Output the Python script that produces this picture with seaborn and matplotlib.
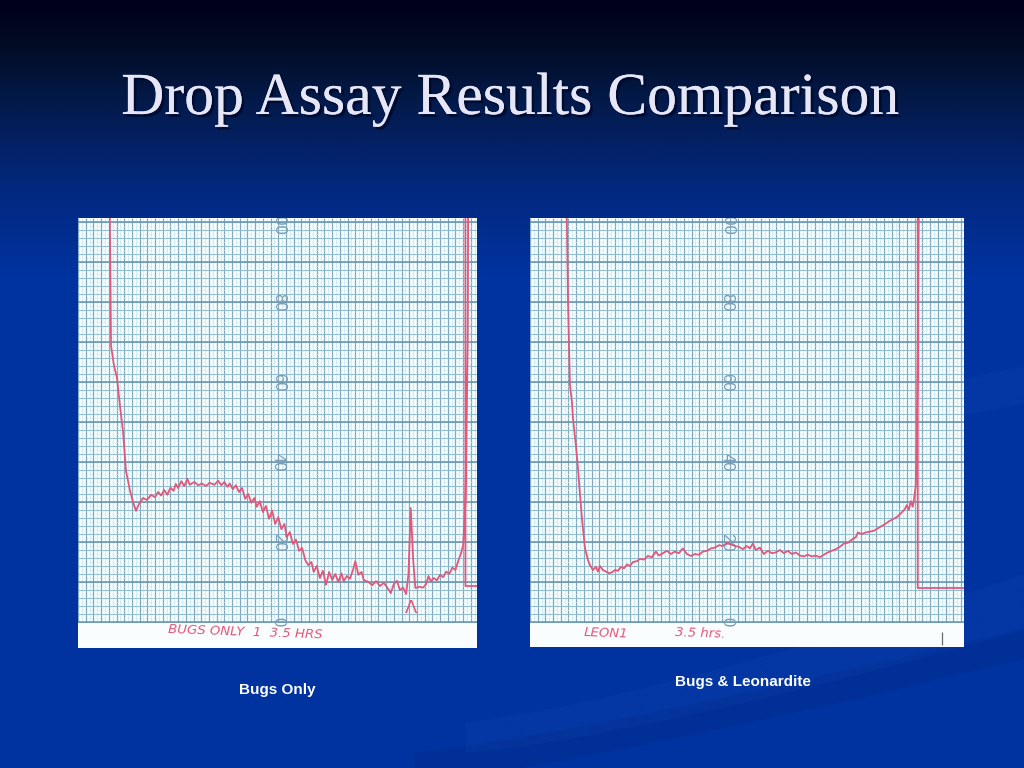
import numpy as np
import pandas as pd
import matplotlib
matplotlib.use("Agg")
import matplotlib.pyplot as plt
import matplotlib.patheffects as pe
import seaborn as sns
from matplotlib.colors import LinearSegmentedColormap

# chart-recorder traces: time in chart divisions, pen reading on the 0-100 scale
bugs_time = [4.12, 4.29, 4.68, 5.06, 5.45, 5.84, 6.23, 6.75, 7.14, 7.53, 7.92, 8.44, 8.96, 9.48,
             10.0, 10.4, 10.8, 11.2, 11.6, 12.0, 12.4, 12.7, 13.0, 13.4, 13.8, 14.2, 14.5, 15.1,
             15.6, 16.1, 16.6, 17.1, 17.7, 18.2, 18.6, 19.0, 19.4, 19.7, 20.1, 20.5, 20.9, 21.3,
             21.7, 22.1, 22.5, 22.9, 23.2, 23.6, 24.0, 24.4, 24.8, 25.2, 25.6, 26.0, 26.4, 26.8,
             27.1, 27.5, 27.9, 28.3, 28.7, 29.1, 29.5, 29.9, 30.3, 30.6, 31.0, 31.4, 31.8, 32.2,
             32.6, 33.0, 33.4, 33.8, 34.2, 34.5, 34.9, 35.3, 35.7, 36.0, 36.4, 36.8, 37.1, 37.7,
             38.2, 38.7, 39.2, 39.7, 40.3, 40.6, 41.0, 41.4, 41.8, 42.2, 42.6, 42.9, 43.2, 43.5,
             43.8, 44.3, 44.8, 45.2, 45.5, 45.8, 46.2, 46.6, 47.0, 47.4, 47.8, 48.2, 48.6, 49.0,
             49.4, 49.7, 50.0, 50.3, 50.4, 50.6, 50.65, 50.3, 50.3, 51.9]
bugs_signal = [103, 69, 64, 61, 54, 47.7, 37.8, 32.8, 30, 27.8, 29.5, 31, 30.5, 31.8,
               31.2, 32.5, 31.6, 33.0, 31.8, 33.6, 32.8, 34.5, 33.5, 35.2, 34.0, 35.8, 34.3, 35.0,
               34.2, 34.6, 34.0, 34.8, 34.3, 35.3, 34.2, 35.0, 33.8, 34.6, 33.2, 34.2, 32.5, 33.5,
               30.8, 32.0, 29.8, 31.0, 28.8, 30.2, 27.5, 29.0, 25.8, 27.8, 24.5, 26.2, 23.2, 24.5,
               21.2, 22.5, 19.5, 20.6, 17.8, 18.5, 15.5, 14.2, 15.0, 12.5, 14.0, 11.0, 12.8, 9.3,
               12.5, 10.5, 12.0, 10.0, 12.2, 10.2, 11.5, 10.8, 13.0, 15.2, 11.8, 12.5, 10.5, 10.0,
               9.2, 10.2, 9.0, 9.8, 8.2, 7.2, 9.5, 10.3, 8.0, 8.6, 7.0, 12.0, 28.5, 16.0,
               8.5, 8.8, 8.6, 9.5, 11.5, 10.2, 11.0, 10.4, 11.8, 11.2, 12.6, 12.0, 13.6, 13.0,
               15.5, 17.0, 19.2, 30.0, 42.7, 70, 103, 103, 9.0, 9.0]

leon_time = [4.77, 4.94, 5.19, 5.45, 5.58, 5.97, 6.23, 6.49, 6.75, 7.14, 7.53, 7.79, 8.18, 8.57,
             8.83, 9.09, 9.48, 9.87, 10.26, 10.65, 11.04, 11.43, 11.82, 12.21, 12.60, 12.99, 13.38,
             13.90, 14.29, 14.81, 15.32, 15.84, 16.36, 16.75, 17.27, 17.79, 18.31, 18.83, 19.35,
             19.87, 20.39, 20.91, 21.43, 21.95, 22.47, 22.99, 23.51, 24.03, 24.55, 25.06, 25.58,
             26.10, 26.62, 27.14, 27.66, 28.18, 28.57, 28.96, 29.35, 29.87, 30.39, 30.91, 31.43,
             31.95, 32.47, 32.99, 33.51, 34.03, 34.55, 35.06, 35.58, 36.10, 36.62, 37.14, 37.66,
             38.18, 38.70, 39.22, 39.74, 40.26, 40.78, 41.30, 41.82, 42.34, 42.60, 43.12, 43.64,
             44.16, 44.68, 45.19, 45.71, 46.23, 46.75, 47.27, 47.79, 48.31, 48.70, 48.96, 49.22,
             49.48, 49.74, 50.0, 50.13, 50.26, 50.39, 50.52, 50.39, 50.39, 56.5]
leon_signal = [103, 80, 59.3, 55, 51, 44, 38.5, 32, 26, 18.5, 15.5, 14.2, 13.0, 13.8,
               12.6, 14.0, 13.0, 12.6, 12.2, 12.4, 13.0, 12.8, 13.8, 13.4, 14.4, 14.0, 15.0,
               15.2, 15.8, 15.6, 16.5, 16.2, 17.6, 16.6, 17.2, 17.8, 17.0, 17.6, 17.2,
               18.4, 17.0, 16.5, 17.0, 16.8, 17.6, 17.8, 18.4, 18.6, 19.2, 19.0, 19.8,
               19.4, 19.0, 18.8, 18.2, 19.0, 18.4, 19.6, 18.0, 18.6, 17.0, 17.8, 17.2,
               17.4, 18.0, 17.2, 17.8, 17.0, 17.4, 16.6, 16.4, 16.8, 16.4, 16.6, 16.2,
               16.8, 17.4, 17.8, 18.2, 18.8, 19.6, 19.8, 20.6, 21.2, 22.4, 22.0, 22.4,
               22.6, 22.8, 23.4, 24.0, 24.6, 25.3, 25.8, 26.4, 27.4, 28.2, 29.2, 28.0,
               30.2, 28.8, 32.0, 34.2, 45, 70, 103, 103, 8.5, 8.5]

scale_values = [0, 20, 40, 60, 80, 100]
scale_labels = ["0", "20", "40", "60", "80", "100"]

title = "Drop Assay Results Comparison"
captions = ["Bugs Only", "Bugs & Leonardite"]
pen_notes = [["BUGS ONLY  1  3.5 HRS"], ["LEON1", "3.5 hrs."]]

W, H = 1024, 768
PEN = "#e2587a"
GRID_DARK = "#6592ae"
GRID_MID = "#8dbdd0"
GRID_LIGHT = "#cdebf1"

sns.set_theme(style="white")
plt.rcParams["font.family"] = ["Liberation Sans", "DejaVu Sans"]

fig = plt.figure(figsize=(W / 100, H / 100), dpi=100)

# slide background: dark top fading to royal blue
bg = fig.add_axes([0, 0, 1, 1], zorder=-5)
cmap = LinearSegmentedColormap.from_list(
    "slide", [(0.0, "#00001a"), (0.05, "#020b22"), (0.13, "#031a4a"),
              (0.24, "#03287e"), (0.36, "#0033a0"), (1.0, "#0033a0")])
bg.imshow(np.linspace(0, 1, 400).reshape(-1, 1), aspect="auto", cmap=cmap,
          extent=[0, 1, 0, 1], origin="upper")
xs = np.linspace(0, 1, 100)
bg.fill_between(xs[45:], 0.02 + 0.35 * (xs[45:] - 0.45) ** 1.3, 0.06 + 0.42 * (xs[45:] - 0.45) ** 1.3,
                color="#2a5cc0", alpha=0.10, lw=0)
bg.fill_between(xs[40:], -0.02 + 0.3 * (xs[40:] - 0.4) ** 1.2, 0.02 + 0.3 * (xs[40:] - 0.4) ** 1.2,
                color="#001e70", alpha=0.15, lw=0)
bg.fill_between(xs[70:], 0.40 + 0.25 * (xs[70:] - 0.7), 0.44 + 0.28 * (xs[70:] - 0.7),
                color="#2a5cc0", alpha=0.10, lw=0)
bg.set_xlim(0, 1)
bg.set_ylim(0, 1)
bg.axis("off")

# title with drop shadow
fig.text(511 / W, 1 - 100 / H, title, ha="center", va="center", fontsize=43,
         family="Liberation Serif", color="#e6e6f6",
         path_effects=[pe.withSimplePatchShadow(offset=(2, -2), shadow_rgbFace="#000a30", alpha=0.9),
                       pe.Normal()])

panels = [
    dict(rect=(78, 218, 399, 430), xmax=51.8, ymin=-6.5, label_x=26.0,
         time=bugs_time, signal=bugs_signal, cap_xy=(277, 690),
         notes=[(11.7, -2.6)]),
    dict(rect=(530, 218, 434, 429), xmax=56.4, ymin=-6.25, label_x=25.6,
         time=leon_time, signal=leon_signal, cap_xy=(743, 682),
         notes=[(6.9, -2.8), (18.8, -2.8)]),
]

for i, p in enumerate(panels):
    x0, y0, w, h = p["rect"]
    ax = fig.add_axes([x0 / W, 1 - (y0 + h) / H, w / W, h / H])
    ax.set_facecolor("#f9fdfe")
    ax.set_xlim(0, p["xmax"])
    ax.set_ylim(p["ymin"], 101)

    # recorder paper grid
    half = np.arange(0.5, p["xmax"], 1.0)
    full = np.arange(0, p["xmax"], 1.0)
    ax.vlines(half, 0, 101, color=GRID_LIGHT, lw=0.6, zorder=1)
    ax.vlines(full, 0, 101, color=GRID_DARK, lw=0.9, alpha=0.8, zorder=1)
    ax.hlines(np.arange(1, 101, 2), 0, p["xmax"], color=GRID_LIGHT, lw=0.6,
              linestyles=(0, (2, 3)), zorder=1)
    ax.hlines(np.arange(0, 101, 2), 0, p["xmax"], color=GRID_MID, lw=0.7, zorder=1)
    ax.hlines(np.arange(0, 101, 10), 0, p["xmax"], color=GRID_DARK, lw=1.1, zorder=1)

    for v, s in zip(scale_values, scale_labels):
        ax.text(p["label_x"], v, s, rotation=270, ha="center", va="center",
                fontsize=12, color="#7d9db4", zorder=2, clip_on=True)

    df = pd.DataFrame({"time": p["time"], "signal": p["signal"]})
    sns.lineplot(data=df, x="time", y="signal", sort=False, estimator=None,
                 color=PEN, lw=1.3, ax=ax, zorder=3)

    for (nx, ny), note in zip(p["notes"], pen_notes[i]):
        ax.text(nx, ny, note, ha="left", va="center", fontsize=9.5, style="italic",
                color=PEN, rotation=-2, family="DejaVu Sans")

    if i == 0:
        ax.text(43.2, 3.5, "Λ", ha="center", va="center", fontsize=13,
                color=PEN, family="DejaVu Sans")
    else:
        ax.vlines(53.5, -5.8, -2.4, color="#666a70", lw=0.9)

    for sp in ax.spines.values():
        sp.set_visible(False)
    ax.set_xticks([])
    ax.set_yticks([])
    ax.set_xlabel("")
    ax.set_ylabel("")

    cx, cy = p["cap_xy"]
    fig.text(cx / W, 1 - cy / H, captions[i], ha="center", va="center",
             fontsize=11, fontweight="bold", color="white")

fig.savefig("out.png", dpi=100)
